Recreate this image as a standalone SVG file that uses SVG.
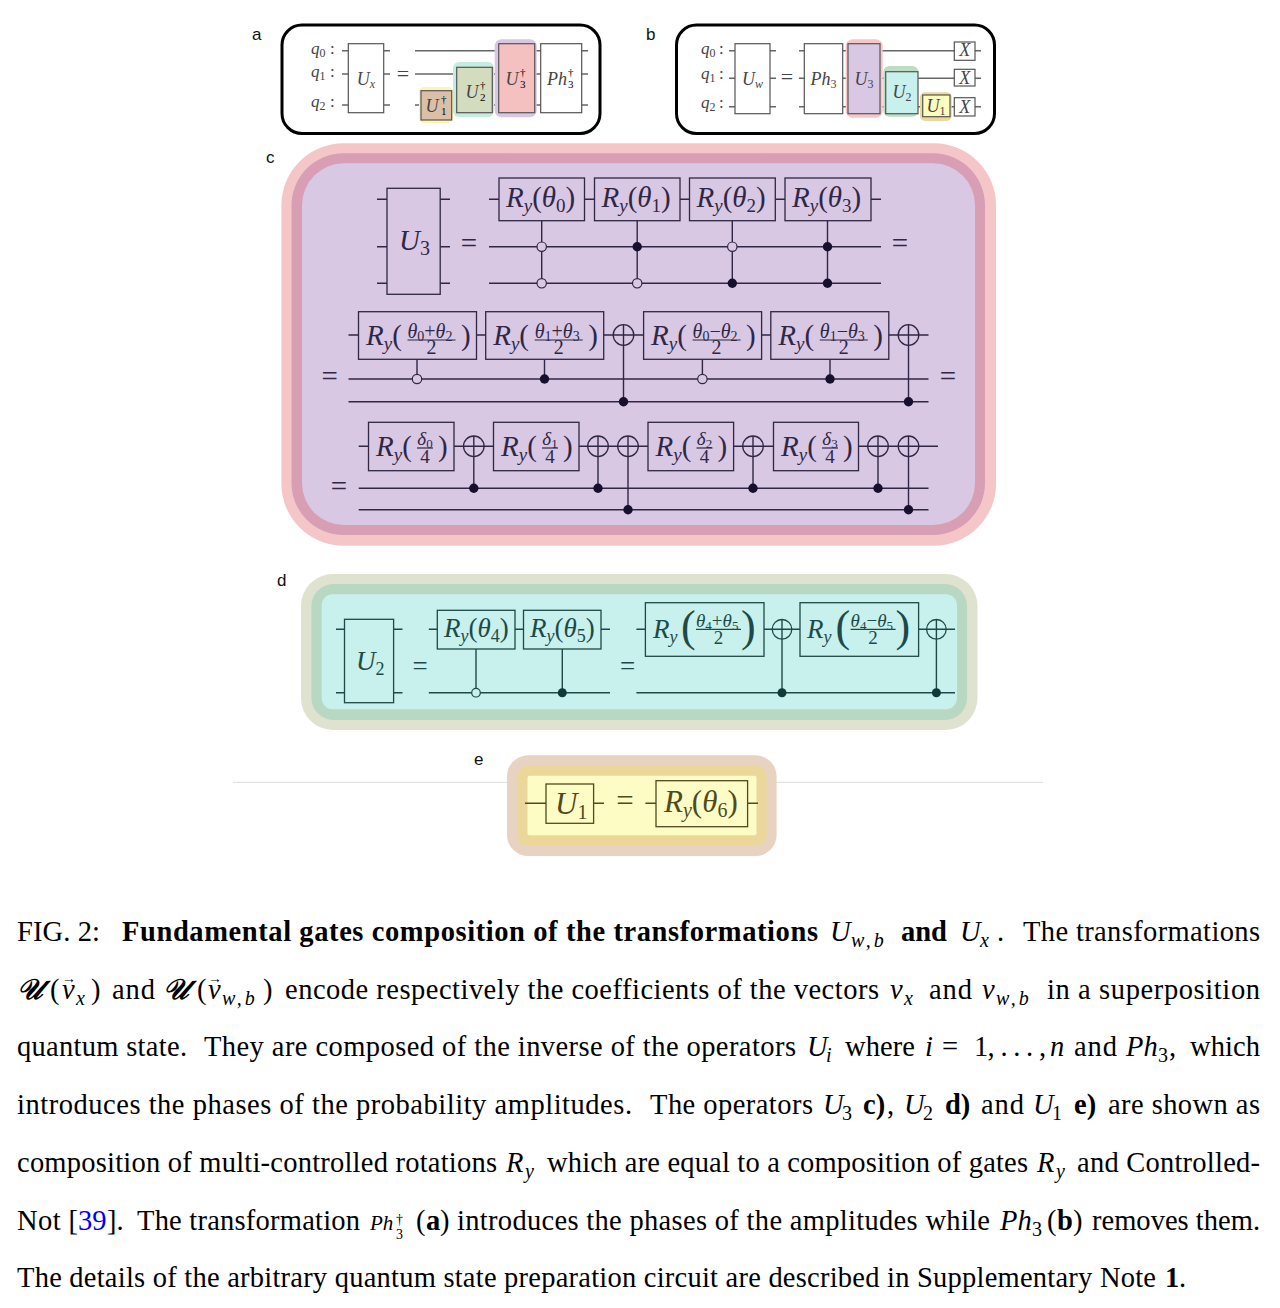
<svg xmlns="http://www.w3.org/2000/svg" width="1280" height="1308" viewBox="0 0 1280 1308">
<style>
text{font-family:"Liberation Serif","Times New Roman",serif;fill:#000}
.lab{font-family:"Liberation Sans",Arial,sans-serif;font-size:17px;fill:#111}
.cap{font-size:28.5px}
.b{font-weight:700}
.i{font-style:italic}
.sb{font-size:20px}
.ls{letter-spacing:3px}
.q{font-style:italic;font-size:17px;fill:#444}
.q2{font-size:17px;fill:#444}
.ga{font-size:18px;fill:#444;text-anchor:middle}
.gc{font-size:29px;fill:#2f2745}
.gd{font-size:27px;fill:#1d4a48}
.ge{font-size:31px;fill:#4f4a20}
.eq{text-anchor:middle}
.mid{text-anchor:middle}
.f14{font-size:14px}
.f19{font-size:19px}
.f20{font-size:20px}
.f22{font-size:22px}
.f44{font-size:44px}
.w line{stroke-width:1.4}
.wa line{stroke:#666}
.wc line{stroke:#2f2745}
.wd line{stroke:#1d4a48}
.we line{stroke:#4f4a20}
.ba{stroke:#555;stroke-width:1.2;fill:#fff}
.bc{stroke:#2f2745;stroke-width:1.3;fill:#d8c8e4}
.bd{stroke:#1d4a48;stroke-width:1.3;fill:#c8f0ec}
.be{stroke:#4f4a20;stroke-width:1.3;fill:#fdfcc4}
.on{fill:#16102e}
.off{fill:#d8c8e4;stroke:#2f2745;stroke-width:1.2}
.ond{fill:#0f3a38}
.offd{fill:#c8f0ec;stroke:#1d4a48;stroke-width:1.2}
.t{fill:none;stroke:#2f2745;stroke-width:1.3}
.td{fill:none;stroke:#1d4a48;stroke-width:1.3}
.bar{stroke-width:1.2;stroke:#2f2745}
.bard{stroke-width:1.2;stroke:#1d4a48}
</style>

<g id="labels">
<text class="lab" x="252" y="40">a</text>
<text class="lab" x="646" y="40">b</text>
<text class="lab" x="266" y="163">c</text>
<text class="lab" x="277" y="586">d</text>
<text class="lab" x="474" y="765">e</text>
</g>

<g id="panel-a">
<rect x="282" y="25" width="318" height="108.500" rx="20" fill="#fff" stroke="#000" stroke-width="3"/>
<g class="w wa" id="connectors-a">
<line x1="342" y1="50.700" x2="390" y2="50.700"/><line x1="342" y1="74" x2="390" y2="74"/><line x1="342" y1="105" x2="390" y2="105"/>
<line x1="415" y1="50.700" x2="588" y2="50.700"/><line x1="415" y1="74" x2="588" y2="74"/><line x1="415" y1="105" x2="588" y2="105"/>
</g>
<g id="a-Ux"><rect class="ba" x="348.300" y="43.700" width="35.400" height="69"/><text class="ga" x="366" y="85"><tspan class="i">U</tspan><tspan class="i" font-size="12" dy="3">x</tspan></text></g>
<text class="ga f22" x="403" y="81">=</text>
<g id="a-U1"><rect x="419" y="87" width="34" height="36" rx="5" fill="#fdf5b0"/><rect x="421" y="90.700" width="30.700" height="29.300" fill="#dcbfa8" stroke="#555" stroke-width="1.2"/><text class="ga i" x="432" y="112">U</text><text x="441" y="103" font-size="11" fill="#444">†</text><text x="441" y="115" font-size="11" fill="#444">1</text></g>
<g id="a-U2"><rect x="453" y="62" width="41" height="55" rx="6" fill="#c5ecdf"/><rect x="456.700" y="67.300" width="35.600" height="45.400" fill="#d3dcbf" stroke="#555" stroke-width="1.2"/><text class="ga i" x="472" y="98">U</text><text x="480" y="89" font-size="11" fill="#444">†</text><text x="480" y="101" font-size="11" fill="#444">2</text></g>
<g id="a-U3"><rect x="494.700" y="39.300" width="42" height="78" rx="7" fill="#d9c6e3"/><rect x="498.700" y="43.700" width="36" height="69" fill="#f5c0c0" stroke="#555" stroke-width="1.2"/><text class="ga i" x="512" y="85">U</text><text x="520" y="76" font-size="11" fill="#444">†</text><text x="520" y="88" font-size="11" fill="#444">3</text></g>
<g id="a-Ph"><rect class="ba" x="540.700" y="43.700" width="41" height="69"/><text class="ga i" x="557" y="85">Ph</text><text x="568" y="76" font-size="11" fill="#444">†</text><text x="568" y="88" font-size="11" fill="#444">3</text></g>
<g id="a-q"><text class="q" x="311" y="54">q<tspan font-size="12" font-style="normal" dy="3">0</tspan></text><text class="q2" x="330" y="54">:</text><text class="q" x="311" y="77">q<tspan font-size="12" font-style="normal" dy="3">1</tspan></text><text class="q2" x="330" y="77">:</text><text class="q" x="311" y="107">q<tspan font-size="12" font-style="normal" dy="3">2</tspan></text><text class="q2" x="330" y="107">:</text></g>
</g>

<g id="panel-b">
<rect x="676.500" y="25" width="318" height="108.500" rx="20" fill="#fff" stroke="#000" stroke-width="3"/>
<g class="w wa" id="connectors-b">
<line x1="729" y1="50.700" x2="776" y2="50.700"/><line x1="729" y1="78.300" x2="776" y2="78.300"/><line x1="729" y1="106.700" x2="776" y2="106.700"/>
<line x1="799" y1="50.700" x2="981" y2="50.700"/><line x1="799" y1="78.300" x2="981" y2="78.300"/><line x1="799" y1="106.700" x2="981" y2="106.700"/>
</g>
<g id="b-Uw"><rect class="ba" x="735" y="43.700" width="35" height="70"/><text class="ga" x="752.500" y="85"><tspan class="i">U</tspan><tspan class="i" font-size="12" dy="3">w</tspan></text></g>
<text class="ga f22" x="787" y="84">=</text>
<g id="b-Ph3"><rect class="ba" x="804.300" y="43.700" width="38.400" height="70"/><text class="ga" x="823.500" y="85"><tspan class="i">Ph</tspan><tspan font-size="12" dy="3">3</tspan></text></g>
<g id="b-U3"><rect x="845.700" y="39.300" width="37" height="78.400" rx="7" fill="#f6c6c8"/><rect x="848" y="43.700" width="32" height="70" fill="#d8c8e4" stroke="#555" stroke-width="1.2"/><text class="ga" x="864" y="85"><tspan class="i">U</tspan><tspan font-size="12" dy="3">3</tspan></text></g>
<g id="b-U2"><rect x="883.300" y="66" width="35" height="50.700" rx="6" fill="#bedcc4"/><rect x="885.700" y="71.700" width="32.300" height="42" fill="#c8f0ec" stroke="#555" stroke-width="1.2"/><text class="ga" x="902" y="98"><tspan class="i">U</tspan><tspan font-size="12" dy="3">2</tspan></text></g>
<g id="b-U1"><rect x="920" y="92.300" width="31.700" height="28.700" rx="5" fill="#ecd89a"/><rect x="922.700" y="95" width="27.300" height="21.700" fill="#fdfcbf" stroke="#555" stroke-width="1.2"/><text class="ga" x="936" y="112"><tspan class="i">U</tspan><tspan font-size="12" dy="3">1</tspan></text></g>
<g id="b-X"><rect class="ba" x="954.300" y="42" width="20.700" height="18.300"/><rect class="ba" x="954.300" y="69.300" width="20.700" height="16.700"/><rect class="ba" x="954.300" y="97.700" width="20.700" height="18.300"/><text class="ga i" x="964.700" y="56">X</text><text class="ga i" x="964.700" y="84">X</text><text class="ga i" x="964.700" y="113">X</text></g>
<g id="b-q"><text class="q" x="701" y="54">q<tspan font-size="12" font-style="normal" dy="3">0</tspan></text><text class="q2" x="719" y="54">:</text><text class="q" x="701" y="79">q<tspan font-size="12" font-style="normal" dy="3">1</tspan></text><text class="q2" x="719" y="79">:</text><text class="q" x="701" y="108">q<tspan font-size="12" font-style="normal" dy="3">2</tspan></text><text class="q2" x="719" y="108">:</text></g>
</g>

<g id="panel-c">
<rect x="281.400" y="143.300" width="714.600" height="402.400" rx="62" fill="#f5c6c8"/>
<rect x="291.500" y="153.300" width="693.500" height="381.700" rx="52" fill="#d89eb4"/>
<rect x="302" y="163.300" width="673" height="361.700" rx="42" fill="#d8c8e4"/>
<g class="w wc" id="connectors-c">
<line x1="377" y1="199.300" x2="450" y2="199.300"/><line x1="377" y1="246.700" x2="450" y2="246.700"/><line x1="377" y1="283.300" x2="450" y2="283.300"/>
<line x1="489" y1="199.300" x2="881" y2="199.300"/><line x1="489" y1="246.700" x2="881" y2="246.700"/><line x1="489" y1="283.300" x2="881" y2="283.300"/>
<line x1="541.700" y1="220" x2="541.700" y2="283.300"/><line x1="637.200" y1="220" x2="637.200" y2="283.300"/><line x1="732.300" y1="220" x2="732.300" y2="283.300"/><line x1="827.500" y1="220" x2="827.500" y2="283.300"/>
<line x1="348.500" y1="335" x2="928.500" y2="335"/><line x1="348.500" y1="379" x2="928.500" y2="379"/><line x1="348.500" y1="401.700" x2="928.500" y2="401.700"/>
<line x1="417" y1="359" x2="417" y2="379"/><line x1="544.500" y1="359" x2="544.500" y2="379"/><line x1="623.500" y1="325" x2="623.500" y2="401.700"/><line x1="702.400" y1="359" x2="702.400" y2="379"/><line x1="830" y1="359" x2="830" y2="379"/><line x1="908.500" y1="325" x2="908.500" y2="401.700"/>
<line x1="358.700" y1="446.300" x2="938" y2="446.300"/><line x1="358.700" y1="488.300" x2="928.500" y2="488.300"/><line x1="358.700" y1="509.700" x2="928.500" y2="509.700"/>
<line x1="473.800" y1="436" x2="473.800" y2="488.300"/><line x1="598" y1="436" x2="598" y2="488.300"/><line x1="628" y1="436" x2="628" y2="509.700"/><line x1="753" y1="436" x2="753" y2="488.300"/><line x1="878" y1="436" x2="878" y2="488.300"/><line x1="908.500" y1="436" x2="908.500" y2="509.700"/>
</g>
<g id="c-U3"><rect class="bc" x="387" y="188.300" width="53.200" height="106"/><text class="gc" x="399" y="250"><tspan class="i">U</tspan><tspan font-size="20" dy="5">3</tspan></text></g>
<g id="c-row1">
<rect class="bc" x="499" y="178" width="85.500" height="42.700"/><rect class="bc" x="594.500" y="178" width="85.500" height="42.700"/><rect class="bc" x="689.500" y="178" width="85.800" height="42.700"/><rect class="bc" x="785" y="178" width="86" height="42.700"/>
<text class="gc" x="506" y="207"><tspan class="i">R</tspan><tspan class="i" font-size="19" dy="5">y</tspan><tspan dy="-5">(</tspan><tspan class="i">θ</tspan><tspan font-size="19" dy="5">0</tspan><tspan dy="-5">)</tspan></text>
<text class="gc" x="601.500" y="207"><tspan class="i">R</tspan><tspan class="i" font-size="19" dy="5">y</tspan><tspan dy="-5">(</tspan><tspan class="i">θ</tspan><tspan font-size="19" dy="5">1</tspan><tspan dy="-5">)</tspan></text>
<text class="gc" x="696.500" y="207"><tspan class="i">R</tspan><tspan class="i" font-size="19" dy="5">y</tspan><tspan dy="-5">(</tspan><tspan class="i">θ</tspan><tspan font-size="19" dy="5">2</tspan><tspan dy="-5">)</tspan></text>
<text class="gc" x="792" y="207"><tspan class="i">R</tspan><tspan class="i" font-size="19" dy="5">y</tspan><tspan dy="-5">(</tspan><tspan class="i">θ</tspan><tspan font-size="19" dy="5">3</tspan><tspan dy="-5">)</tspan></text>
<circle class="off" cx="541.700" cy="246.700" r="4.700"/><circle class="off" cx="541.700" cy="283.300" r="4.700"/>
<circle class="on" cx="637.200" cy="246.700" r="4.700"/><circle class="off" cx="637.200" cy="283.300" r="4.700"/>
<circle class="off" cx="732.300" cy="246.700" r="4.700"/><circle class="on" cx="732.300" cy="283.300" r="4.700"/>
<circle class="on" cx="827.500" cy="246.700" r="4.700"/><circle class="on" cx="827.500" cy="283.300" r="4.700"/>
</g>
<g id="c-row2">
<rect class="bc" x="358.500" y="311.700" width="118" height="47.600"/><rect class="bc" x="485.700" y="311.700" width="118" height="47.600"/><rect class="bc" x="643.600" y="311.700" width="118" height="47.600"/><rect class="bc" x="770.800" y="311.700" width="118" height="47.600"/>
<g id="c-f0"><text class="gc" x="366" y="345"><tspan class="i">R</tspan><tspan class="i" font-size="19" dy="5">y</tspan><tspan dy="-5">(</tspan></text><text class="gc f20" x="407.500" y="337.500"><tspan class="i">θ</tspan><tspan font-size="14" dy="3">0</tspan><tspan dy="-3">+</tspan><tspan class="i">θ</tspan><tspan font-size="14" dy="3">2</tspan></text><line class="bar" x1="407.500" y1="340" x2="455.500" y2="340"/><text class="gc f20 mid" x="431.500" y="354">2</text><text class="gc" x="461" y="345">)</text></g>
<g id="c-f1"><text class="gc" x="493.200" y="345"><tspan class="i">R</tspan><tspan class="i" font-size="19" dy="5">y</tspan><tspan dy="-5">(</tspan></text><text class="gc f20" x="534.700" y="337.500"><tspan class="i">θ</tspan><tspan font-size="14" dy="3">1</tspan><tspan dy="-3">+</tspan><tspan class="i">θ</tspan><tspan font-size="14" dy="3">3</tspan></text><line class="bar" x1="534.700" y1="340" x2="582.700" y2="340"/><text class="gc f20 mid" x="558.700" y="354">2</text><text class="gc" x="588.200" y="345">)</text></g>
<g id="c-f2"><text class="gc" x="651.100" y="345"><tspan class="i">R</tspan><tspan class="i" font-size="19" dy="5">y</tspan><tspan dy="-5">(</tspan></text><text class="gc f20" x="692.600" y="337.500"><tspan class="i">θ</tspan><tspan font-size="14" dy="3">0</tspan><tspan dy="-3">−</tspan><tspan class="i">θ</tspan><tspan font-size="14" dy="3">2</tspan></text><line class="bar" x1="692.600" y1="340" x2="740.600" y2="340"/><text class="gc f20 mid" x="716.600" y="354">2</text><text class="gc" x="746.100" y="345">)</text></g>
<g id="c-f3"><text class="gc" x="778.300" y="345"><tspan class="i">R</tspan><tspan class="i" font-size="19" dy="5">y</tspan><tspan dy="-5">(</tspan></text><text class="gc f20" x="819.800" y="337.500"><tspan class="i">θ</tspan><tspan font-size="14" dy="3">1</tspan><tspan dy="-3">−</tspan><tspan class="i">θ</tspan><tspan font-size="14" dy="3">3</tspan></text><line class="bar" x1="819.800" y1="340" x2="867.800" y2="340"/><text class="gc f20 mid" x="843.800" y="354">2</text><text class="gc" x="873.300" y="345">)</text></g>
<circle class="off" cx="417" cy="379" r="4.700"/><circle class="on" cx="544.500" cy="379" r="4.700"/><circle class="off" cx="702.400" cy="379" r="4.700"/><circle class="on" cx="830" cy="379" r="4.700"/>
<circle class="t" cx="623.500" cy="335" r="10.300"/><circle class="on" cx="623.500" cy="401.700" r="4.700"/>
<circle class="t" cx="908.500" cy="335" r="10.300"/><circle class="on" cx="908.500" cy="401.700" r="4.700"/>
</g>
<g id="c-row3">
<rect class="bc" x="368.500" y="422.300" width="85.500" height="48.400"/><rect class="bc" x="493.500" y="422.300" width="85.500" height="48.400"/><rect class="bc" x="648" y="422.300" width="85.600" height="48.400"/><rect class="bc" x="773.500" y="422.300" width="85" height="48.400"/>
<g id="c-d0"><text class="gc" x="376" y="456"><tspan class="i">R</tspan><tspan class="i" font-size="19" dy="5">y</tspan><tspan dy="-5">(</tspan></text><text class="gc f19 mid" x="425" y="445"><tspan class="i">δ</tspan><tspan font-size="13" dy="3">0</tspan></text><line class="bar" x1="417" y1="448" x2="433" y2="448"/><text class="gc f19 mid" x="425" y="463">4</text><text class="gc" x="438" y="456">)</text></g>
<g id="c-d1"><text class="gc" x="501" y="456"><tspan class="i">R</tspan><tspan class="i" font-size="19" dy="5">y</tspan><tspan dy="-5">(</tspan></text><text class="gc f19 mid" x="550" y="445"><tspan class="i">δ</tspan><tspan font-size="13" dy="3">1</tspan></text><line class="bar" x1="542" y1="448" x2="558" y2="448"/><text class="gc f19 mid" x="550" y="463">4</text><text class="gc" x="563" y="456">)</text></g>
<g id="c-d2"><text class="gc" x="655.500" y="456"><tspan class="i">R</tspan><tspan class="i" font-size="19" dy="5">y</tspan><tspan dy="-5">(</tspan></text><text class="gc f19 mid" x="704.500" y="445"><tspan class="i">δ</tspan><tspan font-size="13" dy="3">2</tspan></text><line class="bar" x1="696.500" y1="448" x2="712.500" y2="448"/><text class="gc f19 mid" x="704.500" y="463">4</text><text class="gc" x="717.500" y="456">)</text></g>
<g id="c-d3"><text class="gc" x="781" y="456"><tspan class="i">R</tspan><tspan class="i" font-size="19" dy="5">y</tspan><tspan dy="-5">(</tspan></text><text class="gc f19 mid" x="830" y="445"><tspan class="i">δ</tspan><tspan font-size="13" dy="3">3</tspan></text><line class="bar" x1="822" y1="448" x2="838" y2="448"/><text class="gc f19 mid" x="830" y="463">4</text><text class="gc" x="843" y="456">)</text></g>
<circle class="t" cx="473.800" cy="446.300" r="10.300"/><circle class="t" cx="598" cy="446.300" r="10.300"/><circle class="t" cx="628" cy="446.300" r="10.300"/><circle class="t" cx="753" cy="446.300" r="10.300"/><circle class="t" cx="878" cy="446.300" r="10.300"/><circle class="t" cx="908.500" cy="446.300" r="10.300"/>
<circle class="on" cx="473.800" cy="488.300" r="4.700"/><circle class="on" cx="598" cy="488.300" r="4.700"/><circle class="on" cx="628" cy="509.700" r="4.700"/><circle class="on" cx="753" cy="488.300" r="4.700"/><circle class="on" cx="878" cy="488.300" r="4.700"/><circle class="on" cx="908.500" cy="509.700" r="4.700"/>
</g>
<g id="c-eq"><text class="gc eq" x="469" y="253">=</text><text class="gc eq" x="900" y="253">=</text><text class="gc eq" x="329.600" y="386">=</text><text class="gc eq" x="948" y="386">=</text><text class="gc eq" x="339" y="496">=</text></g>
</g>

<g id="panel-d">
<rect x="301" y="574" width="676.500" height="156" rx="32" fill="#dfe2cf"/>
<rect x="311.400" y="584" width="655.600" height="136" rx="22" fill="#b8d8c4"/>
<rect x="321.700" y="594.300" width="635.300" height="115" rx="11" fill="#c8f0ec"/>
<g class="w wd" id="connectors-d">
<line x1="336" y1="629.300" x2="402.500" y2="629.300"/><line x1="336" y1="692.700" x2="402.500" y2="692.700"/>
<line x1="428.800" y1="629.300" x2="610" y2="629.300"/><line x1="428.800" y1="692.700" x2="610" y2="692.700"/>
<line x1="476" y1="649" x2="476" y2="692.700"/><line x1="562.300" y1="649" x2="562.300" y2="692.700"/>
<line x1="636.400" y1="629.300" x2="955" y2="629.300"/><line x1="636.400" y1="692.700" x2="955" y2="692.700"/>
<line x1="782" y1="620" x2="782" y2="692.700"/><line x1="936.400" y1="620" x2="936.400" y2="692.700"/>
</g>
<g id="d-U2"><rect class="bd" x="344.500" y="619.300" width="49.100" height="83.400"/><text class="gd" x="356" y="670"><tspan class="i">U</tspan><tspan font-size="18" dy="5">2</tspan></text></g>
<g id="d-gates">
<rect class="bd" x="437.300" y="610.300" width="77.700" height="38.700"/><rect class="bd" x="523.500" y="610.300" width="77.500" height="38.700"/>
<text class="gd" x="444" y="637"><tspan class="i">R</tspan><tspan class="i" font-size="18" dy="5">y</tspan><tspan dy="-5">(</tspan><tspan class="i">θ</tspan><tspan font-size="18" dy="5">4</tspan><tspan dy="-5">)</tspan></text>
<text class="gd" x="530" y="637"><tspan class="i">R</tspan><tspan class="i" font-size="18" dy="5">y</tspan><tspan dy="-5">(</tspan><tspan class="i">θ</tspan><tspan font-size="18" dy="5">5</tspan><tspan dy="-5">)</tspan></text>
<circle class="offd" cx="476" cy="692.700" r="4.300"/><circle class="ond" cx="562.300" cy="692.700" r="4.500"/>
<rect class="bd" x="645.400" y="602.700" width="118.600" height="53.600"/><rect class="bd" x="800" y="602.700" width="118.600" height="53.600"/>
<text class="gd" x="653" y="638"><tspan class="i">R</tspan><tspan class="i" font-size="18" dy="5">y</tspan></text>
<text class="gd f44" x="681" y="641">(</text><text class="gd f19" x="696" y="626.500"><tspan class="i">θ</tspan><tspan font-size="13" dy="3">4</tspan><tspan dy="-3">+</tspan><tspan class="i">θ</tspan><tspan font-size="13" dy="3">5</tspan></text><line class="bard" x1="696" y1="629.300" x2="741" y2="629.300"/><text class="gd f19 mid" x="718.500" y="644">2</text><text class="gd f44" x="741" y="641">)</text>
<text class="gd" x="807" y="638"><tspan class="i">R</tspan><tspan class="i" font-size="18" dy="5">y</tspan></text>
<text class="gd f44" x="835.600" y="641">(</text><text class="gd f19" x="850.600" y="626.500"><tspan class="i">θ</tspan><tspan font-size="13" dy="3">4</tspan><tspan dy="-3">−</tspan><tspan class="i">θ</tspan><tspan font-size="13" dy="3">5</tspan></text><line class="bard" x1="850.600" y1="629.300" x2="895.600" y2="629.300"/><text class="gd f19 mid" x="873.100" y="644">2</text><text class="gd f44" x="895.600" y="641">)</text>
<circle class="td" cx="782" cy="629.300" r="9.800"/><circle class="td" cx="936.400" cy="629.300" r="9.800"/>
<circle class="ond" cx="782" cy="692.700" r="4.500"/><circle class="ond" cx="936.400" cy="692.700" r="4.500"/>
</g>
<text class="gd eq" x="420" y="675">=</text><text class="gd eq" x="627.500" y="675">=</text>
</g>

<g id="panel-e">
<line x1="233" y1="782.300" x2="1043" y2="782.300" stroke="#dcdcdc" stroke-width="1"/>
<rect x="507" y="755.300" width="269.600" height="100.700" rx="21" fill="#e8d3c2"/>
<rect x="517" y="765.700" width="249.800" height="80" rx="11" fill="#ecd79b"/>
<rect x="527.500" y="775.700" width="229" height="59.600" rx="2" fill="#fdfcc4"/>
<g class="w we" id="connectors-e"><line x1="525" y1="803.300" x2="604" y2="803.300"/><line x1="645.400" y1="803.300" x2="758" y2="803.300"/></g>
<g id="e-U1"><rect class="be" x="546" y="784" width="47.600" height="39.300"/><text class="ge" x="555" y="814"><tspan class="i">U</tspan><tspan font-size="20" dy="5">1</tspan></text></g>
<text class="ge eq" x="625" y="811">=</text>
<g id="e-Ry"><rect class="be" x="656" y="780.700" width="91.600" height="46"/><text class="ge" x="664" y="812"><tspan class="i">R</tspan><tspan class="i" font-size="20" dy="5">y</tspan><tspan dy="-5">(</tspan><tspan class="i">θ</tspan><tspan font-size="20" dy="5">6</tspan><tspan dy="-5">)</tspan></text></g>
</g>

<g id="caption">
<text class="cap" x="17" y="941" textLength="83">FIG. 2:</text>
<text class="cap b" x="122" y="941" textLength="696">Fundamental gates composition of the transformations</text>
<text class="cap i" x="830" y="941">U</text><text class="sb i ls" x="851" y="947">w,b</text>
<text class="cap b" x="901" y="941">and</text>
<text class="cap i" x="960" y="941">U</text><text class="sb i" x="980" y="947">x</text>
<text class="cap" x="997" y="941">.</text>
<text class="cap" x="1023" y="941" textLength="237">The transformations</text>

<text class="cap i b" x="17" y="999">𝒰</text><text class="cap" x="50" y="999">(</text><text class="cap i" x="62" y="999">v</text><text class="f14 mid" x="69" y="983">→</text><text class="sb i" x="76" y="1005">x</text><text class="cap" x="91" y="999">)</text>
<text class="cap" x="112" y="999" textLength="43">and</text>
<text class="cap i b" x="163" y="999">𝒰</text><text class="cap" x="197" y="999">(</text><text class="cap i" x="208" y="999">v</text><text class="f14 mid" x="215" y="983">→</text><text class="sb i ls" x="222" y="1005">w,b</text><text class="cap" x="263" y="999">)</text>
<text class="cap" x="285" y="999" textLength="594">encode respectively the coefficients of the vectors</text>
<text class="cap i" x="890" y="999">v</text><text class="sb i" x="904" y="1005">x</text>
<text class="cap" x="929" y="999" textLength="43">and</text>
<text class="cap i" x="982" y="999">v</text><text class="sb i ls" x="996" y="1005">w,b</text>
<text class="cap" x="1047" y="999" textLength="213">in a superposition</text>

<text class="cap" x="17" y="1056" textLength="170">quantum state.</text>
<text class="cap" x="204" y="1056" textLength="592">They are composed of the inverse of the operators</text>
<text class="cap i" x="807" y="1056">U</text><text class="sb i" x="826" y="1062">i</text>
<text class="cap" x="845" y="1056" textLength="70">where</text>
<text class="cap i" x="925" y="1056">i</text><text class="cap" x="942" y="1056">=</text>
<text class="cap" x="974" y="1056" textLength="72">1, . . . ,</text><text class="cap i" x="1050" y="1056">n</text>
<text class="cap" x="1074" y="1056" textLength="43">and</text>
<text class="cap i" x="1126" y="1056">Ph</text><text class="sb" x="1158" y="1062">3</text><text class="cap" x="1169" y="1056">,</text>
<text class="cap" x="1190" y="1056" textLength="70">which</text>

<text class="cap" x="17" y="1114" textLength="615">introduces the phases of the probability amplitudes.</text>
<text class="cap" x="650" y="1114" textLength="163">The operators</text>
<text class="cap i" x="823" y="1114">U</text><text class="sb" x="842" y="1120">3</text>
<text class="cap b" x="863" y="1114">c)</text><text class="cap" x="887" y="1114">,</text>
<text class="cap i" x="904" y="1114">U</text><text class="sb" x="923" y="1120">2</text>
<text class="cap b" x="945" y="1114">d)</text>
<text class="cap" x="981" y="1114" textLength="43">and</text>
<text class="cap i" x="1033" y="1114">U</text><text class="sb" x="1052" y="1120">1</text>
<text class="cap b" x="1074" y="1114">e)</text>
<text class="cap" x="1108" y="1114" textLength="152">are shown as</text>

<text class="cap" x="17" y="1172" textLength="480">composition of multi-controlled rotations</text>
<text class="cap i" x="506" y="1172">R</text><text class="sb i" x="525" y="1178">y</text>
<text class="cap" x="547" y="1172" textLength="481">which are equal to a composition of gates</text>
<text class="cap i" x="1037" y="1172">R</text><text class="sb i" x="1056" y="1178">y</text>
<text class="cap" x="1077" y="1172" textLength="183">and Controlled-</text>

<text class="cap" x="17" y="1230" textLength="61">Not [</text><text class="cap" x="78" y="1230" style="fill:#0000ee">39</text><text class="cap" x="107" y="1230">].</text>
<text class="cap" x="137" y="1230" textLength="223">The transformation</text>
<text class="i" x="370" y="1230" font-size="21">Ph</text><text x="396" y="1224" font-size="14">†</text><text x="396" y="1239" font-size="14">3</text>
<text class="cap" x="416" y="1230">(</text><text class="cap b" x="426" y="1230">a</text><text class="cap" x="440" y="1230">)</text>
<text class="cap" x="457" y="1230" textLength="533">introduces the phases of the amplitudes while</text>
<text class="cap i" x="1000" y="1230">Ph</text><text class="sb" x="1032" y="1236">3</text>
<text class="cap" x="1047" y="1230">(</text><text class="cap b" x="1057" y="1230">b</text><text class="cap" x="1073" y="1230">)</text>
<text class="cap" x="1092" y="1230" textLength="168">removes them.</text>

<text class="cap" x="17" y="1287" textLength="1139">The details of the arbitrary quantum state preparation circuit are described in Supplementary Note</text>
<text class="cap b" x="1165" y="1287">1</text><text class="cap" x="1179" y="1287">.</text>
</g>
</svg>
